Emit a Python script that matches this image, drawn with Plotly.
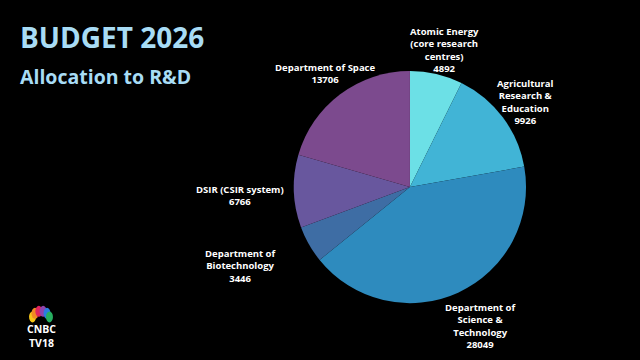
import plotly.graph_objects as go
import math

labels = ["Atomic Energy<br>(core research<br>centres)", "Agricultural<br>Research &<br>Education",
          "Department of<br>Science &<br>Technology", "Department of<br>Biotechnology",
          "DSIR (CSIR system)", "Department of Space"]
values = [4892, 9926, 28049, 3446, 6766, 13706]
colors = ["#6ce0e6", "#41b4d6", "#2e8bbe", "#3e6da4", "#68579e", "#7c4a8e"]

title = "BUDGET 2026"
subtitle = "Allocation to R&D"

fig = go.Figure(go.Pie(
    labels=labels, values=values, sort=False, direction="clockwise", rotation=0,
    marker=dict(colors=colors, line=dict(width=0)),
    textinfo="none", hoverinfo="label+value", showlegend=False,
    domain=dict(x=[0.459, 0.822], y=[0.158, 0.803]),
))

# label anchor positions (paper x, pixel y of text block center)
label_pos = [(444 / 640, 50), (525 / 640, 102), (480 / 640, 326), (240 / 640, 266),
             (240 / 640, 195), (325 / 640, 74)]
lab_font = dict(family="Open Sans", size=9.5, color="white", weight="bold")
for lab, val, (x, ypx) in zip(labels, values, label_pos):
    fig.add_annotation(x=x, y=1 - ypx / 360, xref="paper", yref="paper",
                       text=f"{lab}<br>{val}", showarrow=False, font=lab_font,
                       align="center", xanchor="center", yanchor="middle")

fig.add_annotation(x=18 / 640, y=1 - 37 / 360, xref="paper", yref="paper", text=title,
                   showarrow=False, xanchor="left", yanchor="middle",
                   font=dict(family="Open Sans", size=28, color="#a8dcf5", weight="bold"))
fig.add_annotation(x=18 / 640, y=1 - 76 / 360, xref="paper", yref="paper", text=subtitle,
                   showarrow=False, xanchor="left", yanchor="middle",
                   font=dict(family="Open Sans", size=19.5, color="#a8dcf5", weight="bold"))

# CNBC TV18 logo (decorative)
feathers = ["#f5c518", "#f08a24", "#e0245e", "#8e44ad", "#2a7de1", "#27ae60"]
cx, cy = 41, 320
for i, c in enumerate(feathers):
    ang = math.radians(160 - i * 28)
    fx, fy = cx + 9 * math.cos(ang), cy - 9 * math.sin(ang)
    fig.add_shape(type="circle", xref="paper", yref="paper",
                  x0=(fx - 3.5) / 640, x1=(fx + 3.5) / 640,
                  y0=1 - (fy + 5.5) / 360, y1=1 - (fy - 5.5) / 360,
                  fillcolor=c, line=dict(width=0))
fig.add_annotation(x=cx / 640, y=1 - 336 / 360, xref="paper", yref="paper",
                   text="CNBC<br>TV18", showarrow=False, xanchor="center", yanchor="middle",
                   align="center",
                   font=dict(family="Open Sans", size=10.5, color="white", weight="bold"))

fig.update_layout(width=640, height=360, margin=dict(l=0, r=0, t=0, b=0),
                  paper_bgcolor="black", plot_bgcolor="black")
fig.write_html("out.html")
